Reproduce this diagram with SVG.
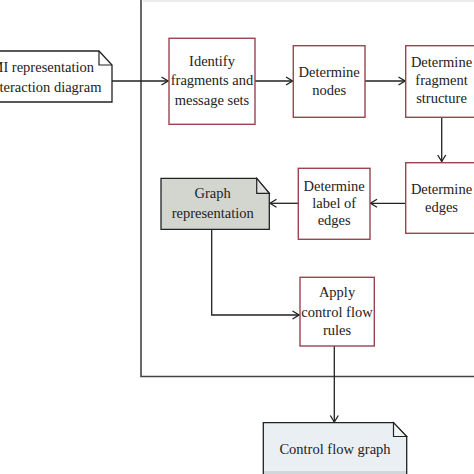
<svg xmlns="http://www.w3.org/2000/svg" width="474" height="474" viewBox="0 0 474 474">
<style>
.box{fill:#fff;stroke:#9b4452;stroke-width:1.4}
.note{stroke:#222;stroke-width:1.3}
.fold{fill:none;stroke:#222;stroke-width:1.2}
.con{fill:none;stroke:#222;stroke-width:1.3}
text{font-family:"Liberation Serif","Times New Roman",serif;font-size:14.5px;fill:#222;text-anchor:middle}
</style>
<defs>
<marker id="arr" viewBox="0 0 8 10" refX="7.5" refY="5" markerWidth="8" markerHeight="10" markerUnits="userSpaceOnUse" orient="auto">
<path d="M1,1 L7.5,5 L1,9" fill="none" stroke="#222" stroke-width="1.3"/>
</marker>
</defs>
<rect x="0" y="0" width="474" height="474" fill="#fff"/>
<g id="container">
<rect x="143" y="0" width="331" height="2" fill="#ececec"/>
<path d="M141,0 V376.5 H474" fill="none" stroke="#444" stroke-width="1.6"/>
</g>
<g id="connectors">
<path class="con" d="M112,81 H168" marker-end="url(#arr)"/>
<path class="con" d="M255,81 H292.5" marker-end="url(#arr)"/>
<path class="con" d="M365,81 H405" marker-end="url(#arr)"/>
<path class="con" d="M441.7,117.3 V161.5" marker-end="url(#arr)"/>
<path class="con" d="M405.7,203.3 H370.5" marker-end="url(#arr)"/>
<path class="con" d="M298.3,203.3 H270" marker-end="url(#arr)"/>
<path class="con" d="M211.7,229.3 V315 H299" marker-end="url(#arr)"/>
<path class="con" d="M334.3,346 V422" marker-end="url(#arr)"/>
</g>
<g id="n-xmi">
<path class="note" fill="#fff" d="M-5,51 H99 L112,65 V102 H-5 Z"/>
<path class="fold" d="M99,51 V65 H112"/>
<text x="37" y="71.5">XMI representation</text>
<text x="37" y="91.5">of interaction diagram</text>
</g>
<g id="n-identify">
<rect class="box" x="169" y="38.3" width="86" height="86"/>
<text x="212" y="65.5">Identify</text>
<text x="212" y="85">fragments and</text>
<text x="212" y="104.5">message sets</text>
</g>
<g id="n-nodes">
<rect class="box" x="293.3" y="45.7" width="71.7" height="71.6"/>
<text x="329.2" y="77">Determine</text>
<text x="329.2" y="95">nodes</text>
</g>
<g id="n-structure">
<rect class="box" x="405.7" y="45.7" width="72" height="71.6"/>
<text x="441.5" y="67">Determine</text>
<text x="441.5" y="85">fragment</text>
<text x="441.5" y="103">structure</text>
</g>
<g id="n-edges">
<rect class="box" x="405.7" y="162.7" width="72" height="70.6"/>
<text x="441.5" y="194">Determine</text>
<text x="441.5" y="211.5">edges</text>
</g>
<g id="n-label">
<rect class="box" x="298.3" y="168.3" width="71.7" height="71"/>
<text x="334.2" y="191">Determine</text>
<text x="334.2" y="208">label of</text>
<text x="334.2" y="225">edges</text>
</g>
<g id="n-graph">
<path class="note" fill="#d3d6cf" d="M161,178.3 H256.7 L269.3,193.3 V229.3 H161 Z"/>
<path d="M256.7,178.3 V193.3 H269.3 Z" fill="#e2e3df" stroke="#222" stroke-width="1.2"/>
<text x="212.7" y="198">Graph</text>
<text x="212.7" y="217.5">representation</text>
</g>
<g id="n-apply">
<rect class="box" x="300" y="277.3" width="74.3" height="68.7"/>
<text x="337" y="296.5">Apply</text>
<text x="337" y="316.5">control flow</text>
<text x="337" y="334.5">rules</text>
</g>
<g id="n-cfg">
<path class="note" fill="#e9eff2" d="M263.3,422.7 H393.5 L406.7,436.7 V480 H263.3 Z"/>
<path d="M393.5,422.7 V436.5 H406.7 Z" fill="#f2f5f6" stroke="#222" stroke-width="1.2"/>
<rect x="264" y="471" width="142" height="3" fill="#d0d6d9"/>
<text x="335" y="453.5">Control flow graph</text>
</g>
</svg>
